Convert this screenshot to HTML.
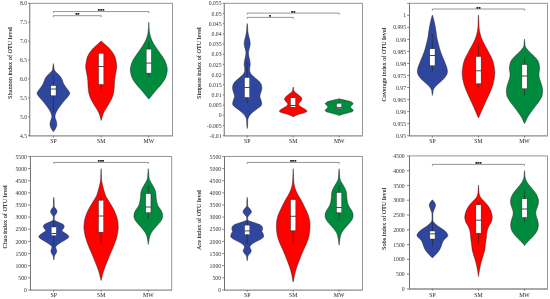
<!DOCTYPE html>
<html><head><meta charset="utf-8"><title>Alpha diversity violin plots</title>
<style>html,body{margin:0;padding:0;background:#fff}svg{display:block}text{font-family:"Liberation Serif", "DejaVu Serif", serif}</style></head><body>
<svg width="550" height="299" viewBox="0 0 550 299">
<rect width="550" height="299" fill="#fff"/>
<path d="M29.75 3.30 H172.50 V135.70" fill="none" stroke="#7a7a7a" stroke-width="0.8"/><path d="M29.75 3.30 V136.20" fill="none" stroke="#565656" stroke-width="0.85"/><path d="M29.30 135.80 H172.90" fill="none" stroke="#8c8c8c" stroke-width="1.3"/>
<line x1="28.05" y1="135.70" x2="29.75" y2="135.70" stroke="#565656" stroke-width="0.7"/><text transform="translate(27.15 137.80) scale(0.89 1)" font-size="6.5" text-anchor="end" fill="#333">4.5</text>
<line x1="28.05" y1="116.79" x2="29.75" y2="116.79" stroke="#565656" stroke-width="0.7"/><text transform="translate(27.15 118.89) scale(0.89 1)" font-size="6.5" text-anchor="end" fill="#333">5.0</text>
<line x1="28.05" y1="97.87" x2="29.75" y2="97.87" stroke="#565656" stroke-width="0.7"/><text transform="translate(27.15 99.97) scale(0.89 1)" font-size="6.5" text-anchor="end" fill="#333">5.5</text>
<line x1="28.05" y1="78.96" x2="29.75" y2="78.96" stroke="#565656" stroke-width="0.7"/><text transform="translate(27.15 81.06) scale(0.89 1)" font-size="6.5" text-anchor="end" fill="#333">6.0</text>
<line x1="28.05" y1="60.04" x2="29.75" y2="60.04" stroke="#565656" stroke-width="0.7"/><text transform="translate(27.15 62.14) scale(0.89 1)" font-size="6.5" text-anchor="end" fill="#333">6.5</text>
<line x1="28.05" y1="41.13" x2="29.75" y2="41.13" stroke="#565656" stroke-width="0.7"/><text transform="translate(27.15 43.23) scale(0.89 1)" font-size="6.5" text-anchor="end" fill="#333">7.0</text>
<line x1="28.05" y1="22.21" x2="29.75" y2="22.21" stroke="#565656" stroke-width="0.7"/><text transform="translate(27.15 24.31) scale(0.89 1)" font-size="6.5" text-anchor="end" fill="#333">7.5</text>
<line x1="28.05" y1="3.30" x2="29.75" y2="3.30" stroke="#565656" stroke-width="0.7"/><text transform="translate(27.15 5.40) scale(0.89 1)" font-size="6.5" text-anchor="end" fill="#333">8.0</text>
<line x1="53.40" y1="135.70" x2="53.40" y2="137.50" stroke="#565656" stroke-width="0.7"/><text transform="translate(53.40 143.30) scale(0.93 1)" font-size="6.2" text-anchor="middle" fill="#222">SP</text>
<line x1="101.20" y1="135.70" x2="101.20" y2="137.50" stroke="#565656" stroke-width="0.7"/><text transform="translate(101.20 143.30) scale(0.93 1)" font-size="6.2" text-anchor="middle" fill="#222">SM</text>
<line x1="148.80" y1="135.70" x2="148.80" y2="137.50" stroke="#565656" stroke-width="0.7"/><text transform="translate(148.80 143.30) scale(0.93 1)" font-size="6.2" text-anchor="middle" fill="#222">MW</text>
<text transform="translate(11.60 63.00) rotate(-90) scale(0.945 1)" font-size="6.6" text-anchor="middle" fill="#111" stroke="#111" stroke-width="0.06">Shannon index of OTU level</text>
<path d="M53.40 63.50 C53.48 64.08 53.75 65.92 53.90 67.00 C54.05 68.08 53.98 69.17 54.30 70.00 C54.62 70.83 55.18 71.33 55.80 72.00 C56.42 72.67 57.19 73.17 58.00 74.00 C58.81 74.83 59.94 76.00 60.65 77.00 C61.36 78.00 61.88 79.17 62.25 80.00 C62.62 80.83 62.54 81.17 62.90 82.00 C63.26 82.83 63.82 84.00 64.40 85.00 C64.98 86.00 65.68 87.00 66.40 88.00 C67.12 89.00 68.15 90.17 68.70 91.00 C69.25 91.83 69.63 92.33 69.70 93.00 C69.77 93.67 69.60 94.17 69.10 95.00 C68.60 95.83 67.47 97.08 66.70 98.00 C65.93 98.92 65.22 99.67 64.50 100.50 C63.78 101.33 63.07 102.17 62.40 103.00 C61.73 103.83 61.12 104.67 60.50 105.50 C59.88 106.33 59.27 107.17 58.70 108.00 C58.13 108.83 57.58 109.67 57.10 110.50 C56.62 111.33 56.15 112.08 55.80 113.00 C55.45 113.92 55.11 115.17 55.00 116.00 C54.89 116.83 54.94 117.17 55.15 118.00 C55.36 118.83 55.98 120.00 56.25 121.00 C56.52 122.00 56.75 123.17 56.80 124.00 C56.85 124.83 56.80 125.17 56.55 126.00 C56.30 126.83 55.82 128.03 55.30 129.00 C54.77 129.97 53.72 131.33 53.40 131.80 L53.40 131.80 C53.08 131.33 52.02 129.97 51.50 129.00 C50.98 128.03 50.50 126.83 50.25 126.00 C50.00 125.17 49.95 124.83 50.00 124.00 C50.05 123.17 50.27 122.00 50.55 121.00 C50.82 120.00 51.44 118.83 51.65 118.00 C51.86 117.17 51.91 116.83 51.80 116.00 C51.69 115.17 51.35 113.92 51.00 113.00 C50.65 112.08 50.18 111.33 49.70 110.50 C49.22 109.67 48.67 108.83 48.10 108.00 C47.53 107.17 46.92 106.33 46.30 105.50 C45.68 104.67 45.07 103.83 44.40 103.00 C43.73 102.17 43.02 101.33 42.30 100.50 C41.58 99.67 40.87 98.92 40.10 98.00 C39.33 97.08 38.20 95.83 37.70 95.00 C37.20 94.17 37.03 93.67 37.10 93.00 C37.17 92.33 37.55 91.83 38.10 91.00 C38.65 90.17 39.68 89.00 40.40 88.00 C41.12 87.00 41.82 86.00 42.40 85.00 C42.98 84.00 43.54 82.83 43.90 82.00 C44.26 81.17 44.17 80.83 44.55 80.00 C44.92 79.17 45.44 78.00 46.15 77.00 C46.86 76.00 47.99 74.83 48.80 74.00 C49.61 73.17 50.38 72.67 51.00 72.00 C51.62 71.33 52.18 70.83 52.50 70.00 C52.82 69.17 52.75 68.08 52.90 67.00 C53.05 65.92 53.32 64.08 53.40 63.50 Z" fill="#2F469E" stroke="#1c1c1c" stroke-width="0.45" stroke-linejoin="round"/>
<path d="M101.20 41.00 C101.58 41.33 102.62 42.25 103.45 43.00 C104.28 43.75 105.28 44.67 106.20 45.50 C107.12 46.33 108.13 47.17 108.95 48.00 C109.77 48.83 110.43 49.67 111.10 50.50 C111.77 51.33 112.42 52.17 112.95 53.00 C113.48 53.83 113.90 54.67 114.30 55.50 C114.70 56.33 115.01 56.75 115.35 58.00 C115.69 59.25 116.13 61.67 116.35 63.00 C116.58 64.33 116.65 65.17 116.70 66.00 C116.75 66.83 116.73 67.17 116.65 68.00 C116.57 68.83 116.44 69.67 116.20 71.00 C115.96 72.33 115.48 74.33 115.20 76.00 C114.92 77.67 114.69 79.33 114.55 81.00 C114.41 82.67 114.47 84.33 114.35 86.00 C114.23 87.67 114.03 89.67 113.85 91.00 C113.68 92.33 113.55 93.00 113.30 94.00 C113.05 95.00 112.68 96.08 112.35 97.00 C112.02 97.92 111.70 98.67 111.30 99.50 C110.90 100.33 110.42 101.17 109.95 102.00 C109.48 102.83 109.00 103.67 108.50 104.50 C108.00 105.33 107.47 106.17 106.95 107.00 C106.43 107.83 105.90 108.67 105.40 109.50 C104.90 110.33 104.36 111.17 103.95 112.00 C103.54 112.83 103.25 113.67 102.95 114.50 C102.65 115.33 102.44 116.00 102.15 117.00 C101.86 118.00 101.36 119.92 101.20 120.50 L101.20 120.50 C101.04 119.92 100.54 118.00 100.25 117.00 C99.96 116.00 99.75 115.33 99.45 114.50 C99.15 113.67 98.86 112.83 98.45 112.00 C98.04 111.17 97.50 110.33 97.00 109.50 C96.50 108.67 95.97 107.83 95.45 107.00 C94.93 106.17 94.40 105.33 93.90 104.50 C93.40 103.67 92.92 102.83 92.45 102.00 C91.98 101.17 91.50 100.33 91.10 99.50 C90.70 98.67 90.38 97.92 90.05 97.00 C89.72 96.08 89.35 95.00 89.10 94.00 C88.85 93.00 88.72 92.33 88.55 91.00 C88.38 89.67 88.17 87.67 88.05 86.00 C87.93 84.33 87.99 82.67 87.85 81.00 C87.71 79.33 87.48 77.67 87.20 76.00 C86.92 74.33 86.44 72.33 86.20 71.00 C85.96 69.67 85.83 68.83 85.75 68.00 C85.67 67.17 85.65 66.83 85.70 66.00 C85.75 65.17 85.83 64.33 86.05 63.00 C86.27 61.67 86.71 59.25 87.05 58.00 C87.39 56.75 87.70 56.33 88.10 55.50 C88.50 54.67 88.92 53.83 89.45 53.00 C89.98 52.17 90.63 51.33 91.30 50.50 C91.97 49.67 92.63 48.83 93.45 48.00 C94.27 47.17 95.28 46.33 96.20 45.50 C97.12 44.67 98.12 43.75 98.95 43.00 C99.78 42.25 100.83 41.33 101.20 41.00 Z" fill="#FE0200" stroke="#1c1c1c" stroke-width="0.45" stroke-linejoin="round"/>
<path d="M148.80 22.20 C148.85 23.17 148.97 26.20 149.10 28.00 C149.23 29.80 149.35 31.50 149.60 33.00 C149.85 34.50 150.15 35.62 150.60 37.00 C151.05 38.38 151.57 39.80 152.30 41.30 C153.03 42.80 154.03 44.48 155.00 46.00 C155.97 47.52 157.05 48.90 158.10 50.40 C159.15 51.90 160.27 53.48 161.30 55.00 C162.33 56.52 163.48 58.00 164.30 59.50 C165.12 61.00 165.70 62.40 166.20 64.00 C166.70 65.60 167.22 67.43 167.30 69.10 C167.38 70.77 167.03 72.48 166.70 74.00 C166.37 75.52 166.03 76.70 165.30 78.20 C164.57 79.70 163.38 81.48 162.30 83.00 C161.22 84.52 160.08 85.80 158.80 87.30 C157.52 88.80 155.88 90.48 154.60 92.00 C153.32 93.52 152.07 95.22 151.10 96.40 C150.13 97.58 149.18 98.65 148.80 99.10 L148.80 99.10 C148.42 98.65 147.47 97.58 146.50 96.40 C145.53 95.22 144.28 93.52 143.00 92.00 C141.72 90.48 140.08 88.80 138.80 87.30 C137.52 85.80 136.38 84.52 135.30 83.00 C134.22 81.48 133.03 79.70 132.30 78.20 C131.57 76.70 131.23 75.52 130.90 74.00 C130.57 72.48 130.22 70.77 130.30 69.10 C130.38 67.43 130.90 65.60 131.40 64.00 C131.90 62.40 132.48 61.00 133.30 59.50 C134.12 58.00 135.27 56.52 136.30 55.00 C137.33 53.48 138.45 51.90 139.50 50.40 C140.55 48.90 141.63 47.52 142.60 46.00 C143.57 44.48 144.57 42.80 145.30 41.30 C146.03 39.80 146.55 38.38 147.00 37.00 C147.45 35.62 147.75 34.50 148.00 33.00 C148.25 31.50 148.37 29.80 148.50 28.00 C148.63 26.20 148.75 23.17 148.80 22.20 Z" fill="#008A3E" stroke="#1c1c1c" stroke-width="0.45" stroke-linejoin="round"/>
<line x1="53.40" y1="75.50" x2="53.40" y2="112.00" stroke="#1c1c1c" stroke-width="0.5"/><rect x="50.75" y="85.50" width="5.30" height="10.30" fill="#fff" stroke="#222" stroke-width="0.45"/><line x1="50.75" y1="89.00" x2="56.05" y2="89.00" stroke="#1a1a1a" stroke-width="0.8"/>
<line x1="101.20" y1="53.20" x2="101.20" y2="90.50" stroke="#1c1c1c" stroke-width="0.5"/><rect x="98.55" y="53.20" width="5.30" height="31.30" fill="#fff" stroke="#222" stroke-width="0.45"/><line x1="98.55" y1="66.50" x2="103.85" y2="66.50" stroke="#1a1a1a" stroke-width="0.8"/>
<line x1="148.80" y1="42.20" x2="148.80" y2="76.40" stroke="#1c1c1c" stroke-width="0.5"/><rect x="146.15" y="49.10" width="5.30" height="24.00" fill="#fff" stroke="#222" stroke-width="0.45"/><line x1="146.15" y1="63.10" x2="151.45" y2="63.10" stroke="#1a1a1a" stroke-width="0.8"/>
<path d="M53.40 13.05 V11.55 H148.80 V13.05" fill="none" stroke="#5c5c5c" stroke-width="0.65"/><text x="101.10" y="12.30" font-size="4.3" font-weight="bold" text-anchor="middle" fill="#111" stroke="#111" stroke-width="0.25">***</text>
<path d="M53.40 17.20 V15.70 H101.20 V17.20" fill="none" stroke="#5c5c5c" stroke-width="0.65"/><text x="77.30" y="16.45" font-size="4.3" font-weight="bold" text-anchor="middle" fill="#111" stroke="#111" stroke-width="0.25">**</text>
<path d="M224.25 3.30 H362.50 V135.70" fill="none" stroke="#7a7a7a" stroke-width="0.8"/><path d="M224.25 3.30 V136.20" fill="none" stroke="#565656" stroke-width="0.85"/><path d="M223.80 135.80 H362.90" fill="none" stroke="#8c8c8c" stroke-width="1.3"/>
<line x1="222.75" y1="135.70" x2="224.25" y2="135.70" stroke="#565656" stroke-width="0.7"/><text transform="translate(221.65 137.80) scale(0.89 1)" font-size="6.5" text-anchor="end" fill="#333">-0.01</text>
<line x1="222.75" y1="125.52" x2="224.25" y2="125.52" stroke="#565656" stroke-width="0.7"/><text transform="translate(221.65 127.62) scale(0.89 1)" font-size="6.5" text-anchor="end" fill="#333">-0.005</text>
<line x1="222.75" y1="115.33" x2="224.25" y2="115.33" stroke="#565656" stroke-width="0.7"/><text transform="translate(221.65 117.43) scale(0.89 1)" font-size="6.5" text-anchor="end" fill="#333">0</text>
<line x1="222.75" y1="105.15" x2="224.25" y2="105.15" stroke="#565656" stroke-width="0.7"/><text transform="translate(221.65 107.25) scale(0.89 1)" font-size="6.5" text-anchor="end" fill="#333">0.005</text>
<line x1="222.75" y1="94.96" x2="224.25" y2="94.96" stroke="#565656" stroke-width="0.7"/><text transform="translate(221.65 97.06) scale(0.89 1)" font-size="6.5" text-anchor="end" fill="#333">0.01</text>
<line x1="222.75" y1="84.78" x2="224.25" y2="84.78" stroke="#565656" stroke-width="0.7"/><text transform="translate(221.65 86.88) scale(0.89 1)" font-size="6.5" text-anchor="end" fill="#333">0.015</text>
<line x1="222.75" y1="74.59" x2="224.25" y2="74.59" stroke="#565656" stroke-width="0.7"/><text transform="translate(221.65 76.69) scale(0.89 1)" font-size="6.5" text-anchor="end" fill="#333">0.02</text>
<line x1="222.75" y1="64.41" x2="224.25" y2="64.41" stroke="#565656" stroke-width="0.7"/><text transform="translate(221.65 66.51) scale(0.89 1)" font-size="6.5" text-anchor="end" fill="#333">0.025</text>
<line x1="222.75" y1="54.22" x2="224.25" y2="54.22" stroke="#565656" stroke-width="0.7"/><text transform="translate(221.65 56.32) scale(0.89 1)" font-size="6.5" text-anchor="end" fill="#333">0.03</text>
<line x1="222.75" y1="44.04" x2="224.25" y2="44.04" stroke="#565656" stroke-width="0.7"/><text transform="translate(221.65 46.14) scale(0.89 1)" font-size="6.5" text-anchor="end" fill="#333">0.035</text>
<line x1="222.75" y1="33.85" x2="224.25" y2="33.85" stroke="#565656" stroke-width="0.7"/><text transform="translate(221.65 35.95) scale(0.89 1)" font-size="6.5" text-anchor="end" fill="#333">0.04</text>
<line x1="222.75" y1="23.67" x2="224.25" y2="23.67" stroke="#565656" stroke-width="0.7"/><text transform="translate(221.65 25.77) scale(0.89 1)" font-size="6.5" text-anchor="end" fill="#333">0.045</text>
<line x1="222.75" y1="13.48" x2="224.25" y2="13.48" stroke="#565656" stroke-width="0.7"/><text transform="translate(221.65 15.58) scale(0.89 1)" font-size="6.5" text-anchor="end" fill="#333">0.05</text>
<line x1="222.75" y1="3.30" x2="224.25" y2="3.30" stroke="#565656" stroke-width="0.7"/><text transform="translate(221.65 5.40) scale(0.89 1)" font-size="6.5" text-anchor="end" fill="#333">0.055</text>
<line x1="247.20" y1="135.70" x2="247.20" y2="137.50" stroke="#565656" stroke-width="0.7"/><text transform="translate(247.20 143.30) scale(0.93 1)" font-size="6.2" text-anchor="middle" fill="#222">SP</text>
<line x1="293.20" y1="135.70" x2="293.20" y2="137.50" stroke="#565656" stroke-width="0.7"/><text transform="translate(293.20 143.30) scale(0.93 1)" font-size="6.2" text-anchor="middle" fill="#222">SM</text>
<line x1="339.20" y1="135.70" x2="339.20" y2="137.50" stroke="#565656" stroke-width="0.7"/><text transform="translate(339.20 143.30) scale(0.93 1)" font-size="6.2" text-anchor="middle" fill="#222">MW</text>
<text transform="translate(200.70 63.10) rotate(-90) scale(0.945 1)" font-size="6.6" text-anchor="middle" fill="#111" stroke="#111" stroke-width="0.06">Simpson index of OTU level</text>
<path d="M247.20 23.50 C247.27 24.08 247.52 25.92 247.60 27.00 C247.68 28.08 247.62 29.00 247.70 30.00 C247.78 31.00 247.97 32.17 248.10 33.00 C248.22 33.83 248.27 34.17 248.45 35.00 C248.63 35.83 248.99 37.17 249.20 38.00 C249.41 38.83 249.53 39.17 249.70 40.00 C249.87 40.83 250.13 42.17 250.20 43.00 C250.27 43.83 250.18 44.33 250.10 45.00 C250.02 45.67 249.83 46.42 249.70 47.00 C249.57 47.58 249.43 48.00 249.30 48.50 C249.17 49.00 249.04 49.42 248.90 50.00 C248.76 50.58 248.51 51.33 248.45 52.00 C248.39 52.67 248.49 53.33 248.55 54.00 C248.61 54.67 248.69 55.33 248.80 56.00 C248.91 56.67 249.05 57.33 249.20 58.00 C249.35 58.67 249.56 59.33 249.70 60.00 C249.84 60.67 249.97 61.33 250.05 62.00 C250.13 62.67 250.20 63.33 250.20 64.00 C250.20 64.67 250.13 65.33 250.05 66.00 C249.97 66.67 249.77 67.33 249.70 68.00 C249.62 68.67 249.58 69.42 249.60 70.00 C249.62 70.58 249.67 71.00 249.80 71.50 C249.93 72.00 250.13 72.50 250.40 73.00 C250.67 73.50 250.97 74.00 251.40 74.50 C251.82 75.00 252.40 75.50 252.95 76.00 C253.50 76.50 254.12 77.00 254.70 77.50 C255.28 78.00 255.87 78.50 256.45 79.00 C257.03 79.50 257.66 80.00 258.20 80.50 C258.74 81.00 259.28 81.50 259.70 82.00 C260.12 82.50 260.42 83.00 260.70 83.50 C260.98 84.00 261.21 84.25 261.40 85.00 C261.59 85.75 261.87 87.00 261.85 88.00 C261.83 89.00 261.56 90.00 261.30 91.00 C261.04 92.00 260.54 93.08 260.30 94.00 C260.06 94.92 259.81 95.67 259.85 96.50 C259.89 97.33 260.27 98.08 260.55 99.00 C260.83 99.92 261.37 101.08 261.55 102.00 C261.73 102.92 261.77 103.83 261.65 104.50 C261.52 105.17 261.14 105.58 260.80 106.00 C260.46 106.42 260.13 106.58 259.60 107.00 C259.07 107.42 258.27 108.00 257.60 108.50 C256.92 109.00 256.22 109.50 255.55 110.00 C254.88 110.50 254.22 111.00 253.60 111.50 C252.98 112.00 252.38 112.50 251.85 113.00 C251.32 113.50 250.82 114.00 250.40 114.50 C249.97 115.00 249.69 115.33 249.30 116.00 C248.91 116.67 248.32 117.67 248.05 118.50 C247.78 119.33 247.77 119.92 247.70 121.00 C247.62 122.08 247.68 123.75 247.60 125.00 C247.52 126.25 247.27 127.92 247.20 128.50 L247.20 128.50 C247.13 127.92 246.88 126.25 246.80 125.00 C246.72 123.75 246.77 122.08 246.70 121.00 C246.62 119.92 246.62 119.33 246.35 118.50 C246.08 117.67 245.49 116.67 245.10 116.00 C244.71 115.33 244.43 115.00 244.00 114.50 C243.57 114.00 243.08 113.50 242.55 113.00 C242.02 112.50 241.42 112.00 240.80 111.50 C240.18 111.00 239.52 110.50 238.85 110.00 C238.18 109.50 237.47 109.00 236.80 108.50 C236.12 108.00 235.33 107.42 234.80 107.00 C234.27 106.58 233.94 106.42 233.60 106.00 C233.26 105.58 232.88 105.17 232.75 104.50 C232.62 103.83 232.67 102.92 232.85 102.00 C233.03 101.08 233.57 99.92 233.85 99.00 C234.13 98.08 234.51 97.33 234.55 96.50 C234.59 95.67 234.34 94.92 234.10 94.00 C233.86 93.08 233.36 92.00 233.10 91.00 C232.84 90.00 232.57 89.00 232.55 88.00 C232.53 87.00 232.81 85.75 233.00 85.00 C233.19 84.25 233.42 84.00 233.70 83.50 C233.98 83.00 234.28 82.50 234.70 82.00 C235.12 81.50 235.66 81.00 236.20 80.50 C236.74 80.00 237.37 79.50 237.95 79.00 C238.53 78.50 239.12 78.00 239.70 77.50 C240.28 77.00 240.90 76.50 241.45 76.00 C242.00 75.50 242.57 75.00 243.00 74.50 C243.43 74.00 243.73 73.50 244.00 73.00 C244.27 72.50 244.47 72.00 244.60 71.50 C244.73 71.00 244.78 70.58 244.80 70.00 C244.82 69.42 244.77 68.67 244.70 68.00 C244.62 67.33 244.43 66.67 244.35 66.00 C244.27 65.33 244.20 64.67 244.20 64.00 C244.20 63.33 244.27 62.67 244.35 62.00 C244.43 61.33 244.56 60.67 244.70 60.00 C244.84 59.33 245.05 58.67 245.20 58.00 C245.35 57.33 245.49 56.67 245.60 56.00 C245.71 55.33 245.79 54.67 245.85 54.00 C245.91 53.33 246.01 52.67 245.95 52.00 C245.89 51.33 245.64 50.58 245.50 50.00 C245.36 49.42 245.23 49.00 245.10 48.50 C244.97 48.00 244.83 47.58 244.70 47.00 C244.57 46.42 244.38 45.67 244.30 45.00 C244.22 44.33 244.13 43.83 244.20 43.00 C244.27 42.17 244.53 40.83 244.70 40.00 C244.87 39.17 244.99 38.83 245.20 38.00 C245.41 37.17 245.77 35.83 245.95 35.00 C246.13 34.17 246.17 33.83 246.30 33.00 C246.42 32.17 246.62 31.00 246.70 30.00 C246.78 29.00 246.72 28.08 246.80 27.00 C246.88 25.92 247.13 24.08 247.20 23.50 Z" fill="#2F469E" stroke="#1c1c1c" stroke-width="0.45" stroke-linejoin="round"/>
<path d="M293.20 87.00 C293.27 87.33 293.50 88.42 293.60 89.00 C293.70 89.58 293.60 90.00 293.80 90.50 C294.00 91.00 294.22 91.42 294.80 92.00 C295.38 92.58 296.46 93.33 297.30 94.00 C298.14 94.67 299.14 95.33 299.85 96.00 C300.56 96.67 301.22 97.42 301.55 98.00 C301.88 98.58 301.95 99.00 301.85 99.50 C301.75 100.00 301.41 100.42 300.95 101.00 C300.49 101.58 299.47 102.42 299.10 103.00 C298.72 103.58 298.60 104.00 298.70 104.50 C298.80 105.00 299.12 105.50 299.70 106.00 C300.28 106.50 301.37 107.00 302.20 107.50 C303.03 108.00 303.95 108.50 304.70 109.00 C305.45 109.50 306.34 110.08 306.70 110.50 C307.06 110.92 307.03 111.20 306.85 111.50 C306.67 111.80 306.12 112.05 305.60 112.30 C305.07 112.55 304.92 112.63 303.70 113.00 C302.48 113.37 299.80 114.00 298.30 114.50 C296.80 115.00 295.55 115.58 294.70 116.00 C293.85 116.42 293.45 116.83 293.20 117.00 L293.20 117.00 C292.95 116.83 292.55 116.42 291.70 116.00 C290.85 115.58 289.60 115.00 288.10 114.50 C286.60 114.00 283.92 113.37 282.70 113.00 C281.48 112.63 281.32 112.55 280.80 112.30 C280.28 112.05 279.73 111.80 279.55 111.50 C279.37 111.20 279.34 110.92 279.70 110.50 C280.06 110.08 280.95 109.50 281.70 109.00 C282.45 108.50 283.37 108.00 284.20 107.50 C285.03 107.00 286.12 106.50 286.70 106.00 C287.28 105.50 287.60 105.00 287.70 104.50 C287.80 104.00 287.68 103.58 287.30 103.00 C286.93 102.42 285.91 101.58 285.45 101.00 C284.99 100.42 284.65 100.00 284.55 99.50 C284.45 99.00 284.52 98.58 284.85 98.00 C285.18 97.42 285.84 96.67 286.55 96.00 C287.26 95.33 288.26 94.67 289.10 94.00 C289.94 93.33 291.02 92.58 291.60 92.00 C292.18 91.42 292.40 91.00 292.60 90.50 C292.80 90.00 292.70 89.58 292.80 89.00 C292.90 88.42 293.13 87.33 293.20 87.00 Z" fill="#FE0200" stroke="#1c1c1c" stroke-width="0.45" stroke-linejoin="round"/>
<path d="M339.20 98.80 C339.62 98.90 340.78 99.20 341.70 99.40 C342.62 99.60 343.70 99.77 344.70 100.00 C345.70 100.23 346.77 100.55 347.70 100.80 C348.63 101.05 349.62 101.27 350.30 101.50 C350.98 101.73 351.38 101.95 351.80 102.20 C352.23 102.45 352.64 102.70 352.85 103.00 C353.06 103.30 353.27 103.58 353.05 104.00 C352.83 104.42 351.97 105.00 351.55 105.50 C351.13 106.00 350.55 106.50 350.55 107.00 C350.55 107.50 351.11 108.00 351.55 108.50 C351.99 109.00 353.05 109.50 353.20 110.00 C353.35 110.50 352.95 111.12 352.45 111.50 C351.95 111.88 351.03 112.05 350.20 112.30 C349.37 112.55 348.40 112.75 347.45 113.00 C346.50 113.25 345.42 113.55 344.50 113.80 C343.58 114.05 342.83 114.22 341.95 114.50 C341.07 114.78 339.66 115.33 339.20 115.50 L339.20 115.50 C338.74 115.33 337.33 114.78 336.45 114.50 C335.57 114.22 334.82 114.05 333.90 113.80 C332.98 113.55 331.90 113.25 330.95 113.00 C330.00 112.75 329.03 112.55 328.20 112.30 C327.37 112.05 326.45 111.88 325.95 111.50 C325.45 111.12 325.05 110.50 325.20 110.00 C325.35 109.50 326.41 109.00 326.85 108.50 C327.29 108.00 327.85 107.50 327.85 107.00 C327.85 106.50 327.27 106.00 326.85 105.50 C326.43 105.00 325.57 104.42 325.35 104.00 C325.13 103.58 325.34 103.30 325.55 103.00 C325.76 102.70 326.17 102.45 326.60 102.20 C327.02 101.95 327.42 101.73 328.10 101.50 C328.78 101.27 329.77 101.05 330.70 100.80 C331.63 100.55 332.70 100.23 333.70 100.00 C334.70 99.77 335.78 99.60 336.70 99.40 C337.62 99.20 338.78 98.90 339.20 98.80 Z" fill="#008A3E" stroke="#1c1c1c" stroke-width="0.45" stroke-linejoin="round"/>
<line x1="247.10" y1="62.00" x2="247.10" y2="103.00" stroke="#1c1c1c" stroke-width="0.5"/><rect x="244.45" y="77.50" width="5.30" height="20.00" fill="#fff" stroke="#222" stroke-width="0.45"/><line x1="244.45" y1="87.50" x2="249.75" y2="87.50" stroke="#1a1a1a" stroke-width="0.8"/>
<line x1="293.10" y1="96.00" x2="293.10" y2="107.20" stroke="#1c1c1c" stroke-width="0.5"/><rect x="290.45" y="97.80" width="5.30" height="9.40" fill="#fff" stroke="#222" stroke-width="0.45"/><line x1="290.45" y1="105.50" x2="295.75" y2="105.50" stroke="#1a1a1a" stroke-width="0.8"/>
<line x1="339.10" y1="101.80" x2="339.10" y2="108.50" stroke="#1c1c1c" stroke-width="0.5"/><rect x="336.45" y="103.20" width="5.30" height="5.30" fill="#fff" stroke="#222" stroke-width="0.45"/><line x1="336.45" y1="107.40" x2="341.75" y2="107.40" stroke="#1a1a1a" stroke-width="0.8"/>
<path d="M247.20 14.60 V13.10 H339.20 V14.60" fill="none" stroke="#5c5c5c" stroke-width="0.65"/><text x="293.20" y="13.85" font-size="4.3" font-weight="bold" text-anchor="middle" fill="#111" stroke="#111" stroke-width="0.25">**</text>
<path d="M247.20 18.90 V17.40 H293.20 V18.90" fill="none" stroke="#5c5c5c" stroke-width="0.65"/><text x="270.20" y="18.15" font-size="4.3" font-weight="bold" text-anchor="middle" fill="#111" stroke="#111" stroke-width="0.25">*</text>
<path d="M409.50 3.30 H547.50 V135.70" fill="none" stroke="#7a7a7a" stroke-width="0.8"/><path d="M409.50 3.30 V136.20" fill="none" stroke="#565656" stroke-width="0.85"/><path d="M409.05 135.80 H547.90" fill="none" stroke="#8c8c8c" stroke-width="1.3"/>
<line x1="407.10" y1="135.70" x2="409.50" y2="135.70" stroke="#565656" stroke-width="0.7"/><text transform="translate(406.15 137.80) scale(0.89 1)" font-size="6.5" text-anchor="end" fill="#333">0.95</text>
<line x1="407.10" y1="123.66" x2="409.50" y2="123.66" stroke="#565656" stroke-width="0.7"/><text transform="translate(406.15 125.76) scale(0.89 1)" font-size="6.5" text-anchor="end" fill="#333">0.955</text>
<line x1="407.10" y1="111.63" x2="409.50" y2="111.63" stroke="#565656" stroke-width="0.7"/><text transform="translate(406.15 113.73) scale(0.89 1)" font-size="6.5" text-anchor="end" fill="#333">0.96</text>
<line x1="407.10" y1="99.59" x2="409.50" y2="99.59" stroke="#565656" stroke-width="0.7"/><text transform="translate(406.15 101.69) scale(0.89 1)" font-size="6.5" text-anchor="end" fill="#333">0.965</text>
<line x1="407.10" y1="87.55" x2="409.50" y2="87.55" stroke="#565656" stroke-width="0.7"/><text transform="translate(406.15 89.65) scale(0.89 1)" font-size="6.5" text-anchor="end" fill="#333">0.97</text>
<line x1="407.10" y1="75.52" x2="409.50" y2="75.52" stroke="#565656" stroke-width="0.7"/><text transform="translate(406.15 77.62) scale(0.89 1)" font-size="6.5" text-anchor="end" fill="#333">0.975</text>
<line x1="407.10" y1="63.48" x2="409.50" y2="63.48" stroke="#565656" stroke-width="0.7"/><text transform="translate(406.15 65.58) scale(0.89 1)" font-size="6.5" text-anchor="end" fill="#333">0.98</text>
<line x1="407.10" y1="51.45" x2="409.50" y2="51.45" stroke="#565656" stroke-width="0.7"/><text transform="translate(406.15 53.55) scale(0.89 1)" font-size="6.5" text-anchor="end" fill="#333">0.985</text>
<line x1="407.10" y1="39.41" x2="409.50" y2="39.41" stroke="#565656" stroke-width="0.7"/><text transform="translate(406.15 41.51) scale(0.89 1)" font-size="6.5" text-anchor="end" fill="#333">0.99</text>
<line x1="407.10" y1="27.37" x2="409.50" y2="27.37" stroke="#565656" stroke-width="0.7"/><text transform="translate(406.15 29.47) scale(0.89 1)" font-size="6.5" text-anchor="end" fill="#333">0.995</text>
<line x1="407.10" y1="15.34" x2="409.50" y2="15.34" stroke="#565656" stroke-width="0.7"/><text transform="translate(406.15 17.44) scale(0.89 1)" font-size="6.5" text-anchor="end" fill="#333">1</text>
<line x1="407.10" y1="3.30" x2="409.50" y2="3.30" stroke="#565656" stroke-width="0.7"/><line x1="432.40" y1="135.70" x2="432.40" y2="137.50" stroke="#565656" stroke-width="0.7"/><text transform="translate(432.40 143.30) scale(0.93 1)" font-size="6.2" text-anchor="middle" fill="#222">SP</text>
<line x1="478.50" y1="135.70" x2="478.50" y2="137.50" stroke="#565656" stroke-width="0.7"/><text transform="translate(478.50 143.30) scale(0.93 1)" font-size="6.2" text-anchor="middle" fill="#222">SM</text>
<line x1="524.50" y1="135.70" x2="524.50" y2="137.50" stroke="#565656" stroke-width="0.7"/><text transform="translate(524.50 143.30) scale(0.93 1)" font-size="6.2" text-anchor="middle" fill="#222">MW</text>
<text transform="translate(386.10 64.60) rotate(-90) scale(0.945 1)" font-size="6.6" text-anchor="middle" fill="#111" stroke="#111" stroke-width="0.06">Coverage index of OTU level</text>
<path d="M432.40 15.00 C432.55 15.50 432.98 16.83 433.30 18.00 C433.62 19.17 433.97 20.50 434.30 22.00 C434.63 23.50 435.00 25.33 435.30 27.00 C435.60 28.67 435.85 30.33 436.10 32.00 C436.35 33.67 436.58 35.67 436.80 37.00 C437.02 38.33 437.09 38.67 437.40 40.00 C437.71 41.33 438.22 43.33 438.65 45.00 C439.08 46.67 439.48 48.33 440.00 50.00 C440.52 51.67 441.15 53.33 441.80 55.00 C442.45 56.67 443.22 58.33 443.90 60.00 C444.58 61.67 445.40 63.67 445.90 65.00 C446.40 66.33 446.65 67.00 446.90 68.00 C447.15 69.00 447.38 70.00 447.40 71.00 C447.42 72.00 447.36 73.00 447.00 74.00 C446.64 75.00 445.99 76.00 445.25 77.00 C444.51 78.00 443.55 79.00 442.55 80.00 C441.55 81.00 440.34 82.00 439.25 83.00 C438.16 84.00 436.76 85.25 436.00 86.00 C435.24 86.75 435.09 87.00 434.70 87.50 C434.31 88.00 433.93 88.42 433.65 89.00 C433.37 89.58 433.14 90.33 433.00 91.00 C432.86 91.67 432.90 92.25 432.80 93.00 C432.70 93.75 432.47 95.08 432.40 95.50 L432.40 95.50 C432.33 95.08 432.10 93.75 432.00 93.00 C431.90 92.25 431.94 91.67 431.80 91.00 C431.66 90.33 431.43 89.58 431.15 89.00 C430.87 88.42 430.49 88.00 430.10 87.50 C429.71 87.00 429.56 86.75 428.80 86.00 C428.04 85.25 426.64 84.00 425.55 83.00 C424.46 82.00 423.25 81.00 422.25 80.00 C421.25 79.00 420.29 78.00 419.55 77.00 C418.81 76.00 418.16 75.00 417.80 74.00 C417.44 73.00 417.38 72.00 417.40 71.00 C417.42 70.00 417.65 69.00 417.90 68.00 C418.15 67.00 418.40 66.33 418.90 65.00 C419.40 63.67 420.22 61.67 420.90 60.00 C421.58 58.33 422.35 56.67 423.00 55.00 C423.65 53.33 424.27 51.67 424.80 50.00 C425.32 48.33 425.72 46.67 426.15 45.00 C426.58 43.33 427.09 41.33 427.40 40.00 C427.71 38.67 427.78 38.33 428.00 37.00 C428.22 35.67 428.45 33.67 428.70 32.00 C428.95 30.33 429.20 28.67 429.50 27.00 C429.80 25.33 430.17 23.50 430.50 22.00 C430.83 20.50 431.18 19.17 431.50 18.00 C431.82 16.83 432.25 15.50 432.40 15.00 Z" fill="#2F469E" stroke="#1c1c1c" stroke-width="0.45" stroke-linejoin="round"/>
<path d="M478.50 14.80 C478.55 15.67 478.73 18.47 478.80 20.00 C478.87 21.53 478.83 22.50 478.90 24.00 C478.97 25.50 478.98 27.33 479.20 29.00 C479.42 30.67 479.77 32.33 480.20 34.00 C480.63 35.67 481.13 37.33 481.80 39.00 C482.47 40.67 483.33 42.33 484.20 44.00 C485.07 45.67 486.28 47.67 487.00 49.00 C487.72 50.33 488.08 51.17 488.50 52.00 C488.92 52.83 489.05 53.17 489.50 54.00 C489.95 54.83 490.58 55.67 491.20 57.00 C491.82 58.33 492.70 60.33 493.20 62.00 C493.70 63.67 493.93 65.33 494.20 67.00 C494.47 68.67 494.75 70.33 494.80 72.00 C494.85 73.67 494.63 75.67 494.50 77.00 C494.37 78.33 494.28 78.67 494.00 80.00 C493.72 81.33 493.30 83.33 492.80 85.00 C492.30 86.67 491.67 88.33 491.00 90.00 C490.33 91.67 489.55 93.33 488.80 95.00 C488.05 96.67 487.27 98.33 486.50 100.00 C485.73 101.67 484.95 103.33 484.20 105.00 C483.45 106.67 482.58 108.67 482.00 110.00 C481.42 111.33 481.10 112.08 480.70 113.00 C480.30 113.92 479.97 114.67 479.60 115.50 C479.23 116.33 478.68 117.58 478.50 118.00 L478.50 118.00 C478.32 117.58 477.77 116.33 477.40 115.50 C477.03 114.67 476.70 113.92 476.30 113.00 C475.90 112.08 475.58 111.33 475.00 110.00 C474.42 108.67 473.55 106.67 472.80 105.00 C472.05 103.33 471.27 101.67 470.50 100.00 C469.73 98.33 468.95 96.67 468.20 95.00 C467.45 93.33 466.67 91.67 466.00 90.00 C465.33 88.33 464.70 86.67 464.20 85.00 C463.70 83.33 463.28 81.33 463.00 80.00 C462.72 78.67 462.63 78.33 462.50 77.00 C462.37 75.67 462.15 73.67 462.20 72.00 C462.25 70.33 462.53 68.67 462.80 67.00 C463.07 65.33 463.30 63.67 463.80 62.00 C464.30 60.33 465.18 58.33 465.80 57.00 C466.42 55.67 467.05 54.83 467.50 54.00 C467.95 53.17 468.08 52.83 468.50 52.00 C468.92 51.17 469.28 50.33 470.00 49.00 C470.72 47.67 471.93 45.67 472.80 44.00 C473.67 42.33 474.53 40.67 475.20 39.00 C475.87 37.33 476.37 35.67 476.80 34.00 C477.23 32.33 477.58 30.67 477.80 29.00 C478.02 27.33 478.03 25.50 478.10 24.00 C478.17 22.50 478.13 21.53 478.20 20.00 C478.27 18.47 478.45 15.67 478.50 14.80 Z" fill="#FE0200" stroke="#1c1c1c" stroke-width="0.45" stroke-linejoin="round"/>
<path d="M524.50 39.20 C524.57 39.83 524.82 42.03 524.90 43.00 C524.98 43.97 524.90 44.33 525.00 45.00 C525.10 45.67 525.17 46.33 525.50 47.00 C525.83 47.67 526.55 48.42 527.00 49.00 C527.45 49.58 527.76 50.00 528.20 50.50 C528.64 51.00 528.88 51.25 529.65 52.00 C530.42 52.75 531.77 54.00 532.80 55.00 C533.82 56.00 534.93 57.00 535.80 58.00 C536.67 59.00 537.47 60.00 538.00 61.00 C538.53 62.00 538.76 63.00 539.00 64.00 C539.24 65.00 539.37 66.00 539.45 67.00 C539.53 68.00 539.59 68.83 539.50 70.00 C539.41 71.17 538.92 72.67 538.90 74.00 C538.88 75.33 539.06 76.67 539.35 78.00 C539.64 79.33 540.23 80.67 540.65 82.00 C541.07 83.33 541.60 84.83 541.90 86.00 C542.20 87.17 542.33 88.17 542.45 89.00 C542.58 89.83 542.67 90.17 542.65 91.00 C542.63 91.83 542.46 93.17 542.35 94.00 C542.24 94.83 542.21 95.33 542.00 96.00 C541.79 96.67 541.66 97.00 541.10 98.00 C540.54 99.00 539.58 100.67 538.65 102.00 C537.72 103.33 536.52 104.67 535.50 106.00 C534.48 107.33 533.48 108.67 532.50 110.00 C531.52 111.33 530.55 112.67 529.65 114.00 C528.75 115.33 527.75 116.83 527.10 118.00 C526.45 119.17 526.18 120.08 525.75 121.00 C525.32 121.92 524.71 123.08 524.50 123.50 L524.50 123.50 C524.29 123.08 523.68 121.92 523.25 121.00 C522.82 120.08 522.55 119.17 521.90 118.00 C521.25 116.83 520.25 115.33 519.35 114.00 C518.45 112.67 517.48 111.33 516.50 110.00 C515.52 108.67 514.52 107.33 513.50 106.00 C512.48 104.67 511.28 103.33 510.35 102.00 C509.42 100.67 508.46 99.00 507.90 98.00 C507.34 97.00 507.21 96.67 507.00 96.00 C506.79 95.33 506.76 94.83 506.65 94.00 C506.54 93.17 506.37 91.83 506.35 91.00 C506.33 90.17 506.43 89.83 506.55 89.00 C506.68 88.17 506.80 87.17 507.10 86.00 C507.40 84.83 507.93 83.33 508.35 82.00 C508.78 80.67 509.36 79.33 509.65 78.00 C509.94 76.67 510.12 75.33 510.10 74.00 C510.08 72.67 509.59 71.17 509.50 70.00 C509.41 68.83 509.47 68.00 509.55 67.00 C509.63 66.00 509.76 65.00 510.00 64.00 C510.24 63.00 510.47 62.00 511.00 61.00 C511.53 60.00 512.33 59.00 513.20 58.00 C514.07 57.00 515.18 56.00 516.20 55.00 C517.23 54.00 518.58 52.75 519.35 52.00 C520.12 51.25 520.36 51.00 520.80 50.50 C521.24 50.00 521.55 49.58 522.00 49.00 C522.45 48.42 523.17 47.67 523.50 47.00 C523.83 46.33 523.90 45.67 524.00 45.00 C524.10 44.33 524.02 43.97 524.10 43.00 C524.18 42.03 524.43 39.83 524.50 39.20 Z" fill="#008A3E" stroke="#1c1c1c" stroke-width="0.45" stroke-linejoin="round"/>
<line x1="432.40" y1="33.90" x2="432.40" y2="71.50" stroke="#1c1c1c" stroke-width="0.5"/><rect x="429.75" y="48.80" width="5.30" height="17.00" fill="#fff" stroke="#222" stroke-width="0.45"/><line x1="429.75" y1="55.50" x2="435.05" y2="55.50" stroke="#1a1a1a" stroke-width="0.8"/>
<line x1="478.50" y1="42.50" x2="478.50" y2="87.50" stroke="#1c1c1c" stroke-width="0.5"/><rect x="475.85" y="56.50" width="5.30" height="27.30" fill="#fff" stroke="#222" stroke-width="0.45"/><line x1="475.85" y1="70.80" x2="481.15" y2="70.80" stroke="#1a1a1a" stroke-width="0.8"/>
<line x1="524.50" y1="57.00" x2="524.50" y2="95.80" stroke="#1c1c1c" stroke-width="0.5"/><rect x="521.85" y="64.50" width="5.30" height="24.30" fill="#fff" stroke="#222" stroke-width="0.45"/><line x1="521.85" y1="76.00" x2="527.15" y2="76.00" stroke="#1a1a1a" stroke-width="0.8"/>
<path d="M432.40 10.50 V9.00 H524.60 V10.50" fill="none" stroke="#5c5c5c" stroke-width="0.65"/><text x="478.50" y="9.75" font-size="4.3" font-weight="bold" text-anchor="middle" fill="#111" stroke="#111" stroke-width="0.25">**</text>
<path d="M30.45 156.45 H171.70 V289.95" fill="none" stroke="#7a7a7a" stroke-width="0.8"/><path d="M30.45 156.45 V290.45" fill="none" stroke="#565656" stroke-width="0.85"/><path d="M30.00 290.05 H172.10" fill="none" stroke="#8c8c8c" stroke-width="1.3"/>
<line x1="28.15" y1="289.95" x2="30.45" y2="289.95" stroke="#565656" stroke-width="0.7"/><text transform="translate(26.95 292.05) scale(0.89 1)" font-size="6.5" text-anchor="end" fill="#333">0</text>
<line x1="28.15" y1="277.81" x2="30.45" y2="277.81" stroke="#565656" stroke-width="0.7"/><text transform="translate(26.95 279.91) scale(0.89 1)" font-size="6.5" text-anchor="end" fill="#333">500</text>
<line x1="28.15" y1="265.68" x2="30.45" y2="265.68" stroke="#565656" stroke-width="0.7"/><text transform="translate(26.95 267.78) scale(0.89 1)" font-size="6.5" text-anchor="end" fill="#333">1000</text>
<line x1="28.15" y1="253.54" x2="30.45" y2="253.54" stroke="#565656" stroke-width="0.7"/><text transform="translate(26.95 255.64) scale(0.89 1)" font-size="6.5" text-anchor="end" fill="#333">1500</text>
<line x1="28.15" y1="241.41" x2="30.45" y2="241.41" stroke="#565656" stroke-width="0.7"/><text transform="translate(26.95 243.51) scale(0.89 1)" font-size="6.5" text-anchor="end" fill="#333">2000</text>
<line x1="28.15" y1="229.27" x2="30.45" y2="229.27" stroke="#565656" stroke-width="0.7"/><text transform="translate(26.95 231.37) scale(0.89 1)" font-size="6.5" text-anchor="end" fill="#333">2500</text>
<line x1="28.15" y1="217.13" x2="30.45" y2="217.13" stroke="#565656" stroke-width="0.7"/><text transform="translate(26.95 219.23) scale(0.89 1)" font-size="6.5" text-anchor="end" fill="#333">3000</text>
<line x1="28.15" y1="205.00" x2="30.45" y2="205.00" stroke="#565656" stroke-width="0.7"/><text transform="translate(26.95 207.10) scale(0.89 1)" font-size="6.5" text-anchor="end" fill="#333">3500</text>
<line x1="28.15" y1="192.86" x2="30.45" y2="192.86" stroke="#565656" stroke-width="0.7"/><text transform="translate(26.95 194.96) scale(0.89 1)" font-size="6.5" text-anchor="end" fill="#333">4000</text>
<line x1="28.15" y1="180.73" x2="30.45" y2="180.73" stroke="#565656" stroke-width="0.7"/><text transform="translate(26.95 182.83) scale(0.89 1)" font-size="6.5" text-anchor="end" fill="#333">4500</text>
<line x1="28.15" y1="168.59" x2="30.45" y2="168.59" stroke="#565656" stroke-width="0.7"/><text transform="translate(26.95 170.69) scale(0.89 1)" font-size="6.5" text-anchor="end" fill="#333">5000</text>
<line x1="28.15" y1="156.45" x2="30.45" y2="156.45" stroke="#565656" stroke-width="0.7"/><text transform="translate(26.95 158.55) scale(0.89 1)" font-size="6.5" text-anchor="end" fill="#333">5500</text>
<line x1="53.80" y1="289.95" x2="53.80" y2="291.75" stroke="#565656" stroke-width="0.7"/><text transform="translate(53.80 297.00) scale(0.93 1)" font-size="6.2" text-anchor="middle" fill="#222">SP</text>
<line x1="101.10" y1="289.95" x2="101.10" y2="291.75" stroke="#565656" stroke-width="0.7"/><text transform="translate(101.10 297.00) scale(0.93 1)" font-size="6.2" text-anchor="middle" fill="#222">SM</text>
<line x1="148.30" y1="289.95" x2="148.30" y2="291.75" stroke="#565656" stroke-width="0.7"/><text transform="translate(148.30 297.00) scale(0.93 1)" font-size="6.2" text-anchor="middle" fill="#222">MW</text>
<text transform="translate(7.40 216.80) rotate(-90) scale(0.945 1)" font-size="6.6" text-anchor="middle" fill="#111" stroke="#111" stroke-width="0.06">Chao index of OTU level</text>
<path d="M53.80 197.40 C53.86 198.00 54.07 199.48 54.15 201.00 C54.23 202.52 54.06 205.25 54.30 206.50 C54.54 207.75 55.22 207.92 55.60 208.50 C55.98 209.08 56.37 209.50 56.60 210.00 C56.83 210.50 57.00 211.00 57.00 211.50 C57.00 212.00 56.87 212.45 56.60 213.00 C56.33 213.55 55.77 214.22 55.40 214.80 C55.03 215.38 54.57 215.63 54.40 216.50 C54.23 217.37 54.17 219.25 54.40 220.00 C54.63 220.75 55.20 220.67 55.80 221.00 C56.40 221.33 57.20 221.63 58.00 222.00 C58.80 222.37 59.77 222.82 60.60 223.20 C61.43 223.58 62.40 223.80 63.00 224.30 C63.60 224.80 64.08 225.58 64.20 226.20 C64.32 226.82 63.97 227.45 63.70 228.00 C63.43 228.55 62.90 229.08 62.60 229.50 C62.30 229.92 61.90 230.15 61.90 230.50 C61.90 230.85 62.15 231.22 62.60 231.60 C63.05 231.98 63.97 232.40 64.60 232.80 C65.23 233.20 65.87 233.62 66.40 234.00 C66.93 234.38 67.40 234.67 67.80 235.10 C68.20 235.53 68.77 236.12 68.80 236.60 C68.83 237.08 68.62 237.43 68.00 238.00 C67.38 238.57 66.11 239.33 65.05 240.00 C63.99 240.67 62.72 241.33 61.65 242.00 C60.58 242.67 59.56 243.33 58.65 244.00 C57.74 244.67 56.70 245.42 56.20 246.00 C55.70 246.58 55.62 246.92 55.65 247.50 C55.68 248.08 56.23 248.83 56.40 249.50 C56.57 250.17 56.77 250.83 56.70 251.50 C56.62 252.17 56.29 252.83 55.95 253.50 C55.61 254.17 54.94 254.83 54.65 255.50 C54.36 256.17 54.34 256.75 54.20 257.50 C54.06 258.25 53.87 259.58 53.80 260.00 L53.80 260.00 C53.73 259.58 53.54 258.25 53.40 257.50 C53.26 256.75 53.24 256.17 52.95 255.50 C52.66 254.83 51.99 254.17 51.65 253.50 C51.31 252.83 50.98 252.17 50.90 251.50 C50.82 250.83 51.02 250.17 51.20 249.50 C51.37 248.83 51.92 248.08 51.95 247.50 C51.98 246.92 51.90 246.58 51.40 246.00 C50.90 245.42 49.86 244.67 48.95 244.00 C48.04 243.33 47.02 242.67 45.95 242.00 C44.88 241.33 43.61 240.67 42.55 240.00 C41.49 239.33 40.22 238.57 39.60 238.00 C38.97 237.43 38.77 237.08 38.80 236.60 C38.83 236.12 39.40 235.53 39.80 235.10 C40.20 234.67 40.67 234.38 41.20 234.00 C41.73 233.62 42.37 233.20 43.00 232.80 C43.63 232.40 44.55 231.98 45.00 231.60 C45.45 231.22 45.70 230.85 45.70 230.50 C45.70 230.15 45.30 229.92 45.00 229.50 C44.70 229.08 44.17 228.55 43.90 228.00 C43.63 227.45 43.28 226.82 43.40 226.20 C43.52 225.58 44.00 224.80 44.60 224.30 C45.20 223.80 46.17 223.58 47.00 223.20 C47.83 222.82 48.80 222.37 49.60 222.00 C50.40 221.63 51.20 221.33 51.80 221.00 C52.40 220.67 52.97 220.75 53.20 220.00 C53.43 219.25 53.37 217.37 53.20 216.50 C53.03 215.63 52.57 215.38 52.20 214.80 C51.83 214.22 51.27 213.55 51.00 213.00 C50.73 212.45 50.60 212.00 50.60 211.50 C50.60 211.00 50.77 210.50 51.00 210.00 C51.23 209.50 51.62 209.08 52.00 208.50 C52.38 207.92 53.06 207.75 53.30 206.50 C53.54 205.25 53.37 202.52 53.45 201.00 C53.53 199.48 53.74 198.00 53.80 197.40 Z" fill="#2F469E" stroke="#1c1c1c" stroke-width="0.45" stroke-linejoin="round"/>
<path d="M101.10 168.70 C101.15 169.75 101.32 173.12 101.40 175.00 C101.48 176.88 101.45 178.50 101.60 180.00 C101.75 181.50 102.02 182.67 102.30 184.00 C102.58 185.33 102.95 186.67 103.30 188.00 C103.65 189.33 103.99 190.67 104.40 192.00 C104.81 193.33 105.03 194.50 105.75 196.00 C106.47 197.50 107.75 199.33 108.75 201.00 C109.75 202.67 110.80 204.33 111.75 206.00 C112.70 207.67 113.67 209.33 114.45 211.00 C115.23 212.67 115.90 214.33 116.45 216.00 C117.00 217.67 117.46 219.33 117.75 221.00 C118.04 222.67 118.12 224.67 118.20 226.00 C118.27 227.33 118.32 227.67 118.20 229.00 C118.07 230.33 117.78 232.33 117.45 234.00 C117.12 235.67 116.70 237.33 116.20 239.00 C115.70 240.67 115.07 242.33 114.45 244.00 C113.82 245.67 113.01 247.67 112.45 249.00 C111.89 250.33 111.67 250.67 111.10 252.00 C110.52 253.33 109.68 255.33 109.00 257.00 C108.32 258.67 107.67 260.33 107.00 262.00 C106.33 263.67 105.62 265.33 105.00 267.00 C104.38 268.67 103.75 270.33 103.25 272.00 C102.75 273.67 102.36 275.58 102.00 277.00 C101.64 278.42 101.25 279.92 101.10 280.50 L101.10 280.50 C100.95 279.92 100.56 278.42 100.20 277.00 C99.84 275.58 99.45 273.67 98.95 272.00 C98.45 270.33 97.82 268.67 97.20 267.00 C96.57 265.33 95.87 263.67 95.20 262.00 C94.53 260.33 93.88 258.67 93.20 257.00 C92.52 255.33 91.67 253.33 91.10 252.00 C90.52 250.67 90.31 250.33 89.75 249.00 C89.19 247.67 88.38 245.67 87.75 244.00 C87.12 242.33 86.50 240.67 86.00 239.00 C85.50 237.33 85.08 235.67 84.75 234.00 C84.42 232.33 84.12 230.33 84.00 229.00 C83.88 227.67 83.92 227.33 84.00 226.00 C84.08 224.67 84.16 222.67 84.45 221.00 C84.74 219.33 85.20 217.67 85.75 216.00 C86.30 214.33 86.97 212.67 87.75 211.00 C88.53 209.33 89.50 207.67 90.45 206.00 C91.40 204.33 92.45 202.67 93.45 201.00 C94.45 199.33 95.72 197.50 96.45 196.00 C97.17 194.50 97.39 193.33 97.80 192.00 C98.21 190.67 98.55 189.33 98.90 188.00 C99.25 186.67 99.62 185.33 99.90 184.00 C100.18 182.67 100.45 181.50 100.60 180.00 C100.75 178.50 100.72 176.88 100.80 175.00 C100.88 173.12 101.05 169.75 101.10 168.70 Z" fill="#FE0200" stroke="#1c1c1c" stroke-width="0.45" stroke-linejoin="round"/>
<path d="M148.30 168.70 C148.35 169.25 148.50 170.78 148.60 172.00 C148.70 173.22 148.78 174.83 148.90 176.00 C149.02 177.17 149.01 178.00 149.30 179.00 C149.59 180.00 150.12 181.00 150.65 182.00 C151.18 183.00 151.87 184.00 152.45 185.00 C153.03 186.00 153.66 187.00 154.15 188.00 C154.64 189.00 155.11 190.00 155.40 191.00 C155.69 192.00 155.78 192.83 155.90 194.00 C156.03 195.17 156.00 196.67 156.15 198.00 C156.30 199.33 156.58 200.92 156.80 202.00 C157.03 203.08 157.18 203.67 157.50 204.50 C157.82 205.33 158.15 206.08 158.70 207.00 C159.25 207.92 160.21 209.00 160.80 210.00 C161.39 211.00 161.94 212.00 162.25 213.00 C162.56 214.00 162.68 215.00 162.65 216.00 C162.62 217.00 162.47 218.00 162.05 219.00 C161.63 220.00 160.90 221.00 160.15 222.00 C159.40 223.00 158.43 224.00 157.55 225.00 C156.68 226.00 155.75 227.00 154.90 228.00 C154.05 229.00 153.16 230.00 152.45 231.00 C151.74 232.00 151.11 233.08 150.65 234.00 C150.19 234.92 149.96 235.67 149.70 236.50 C149.44 237.33 149.26 238.17 149.10 239.00 C148.94 239.83 148.88 240.58 148.75 241.50 C148.62 242.42 148.38 244.00 148.30 244.50 L148.30 244.50 C148.23 244.00 147.98 242.42 147.85 241.50 C147.72 240.58 147.66 239.83 147.50 239.00 C147.34 238.17 147.16 237.33 146.90 236.50 C146.64 235.67 146.41 234.92 145.95 234.00 C145.49 233.08 144.86 232.00 144.15 231.00 C143.44 230.00 142.55 229.00 141.70 228.00 C140.85 227.00 139.93 226.00 139.05 225.00 C138.18 224.00 137.20 223.00 136.45 222.00 C135.70 221.00 134.97 220.00 134.55 219.00 C134.13 218.00 133.98 217.00 133.95 216.00 C133.92 215.00 134.04 214.00 134.35 213.00 C134.66 212.00 135.21 211.00 135.80 210.00 C136.39 209.00 137.35 207.92 137.90 207.00 C138.45 206.08 138.78 205.33 139.10 204.50 C139.42 203.67 139.58 203.08 139.80 202.00 C140.03 200.92 140.30 199.33 140.45 198.00 C140.60 196.67 140.58 195.17 140.70 194.00 C140.83 192.83 140.91 192.00 141.20 191.00 C141.49 190.00 141.96 189.00 142.45 188.00 C142.94 187.00 143.57 186.00 144.15 185.00 C144.73 184.00 145.43 183.00 145.95 182.00 C146.48 181.00 147.01 180.00 147.30 179.00 C147.59 178.00 147.58 177.17 147.70 176.00 C147.82 174.83 147.90 173.22 148.00 172.00 C148.10 170.78 148.25 169.25 148.30 168.70 Z" fill="#008A3E" stroke="#1c1c1c" stroke-width="0.45" stroke-linejoin="round"/>
<line x1="53.80" y1="220.00" x2="53.80" y2="245.90" stroke="#1c1c1c" stroke-width="0.5"/><rect x="51.15" y="227.00" width="5.30" height="8.80" fill="#fff" stroke="#222" stroke-width="0.45"/><line x1="51.15" y1="233.50" x2="56.45" y2="233.50" stroke="#1a1a1a" stroke-width="0.8"/>
<line x1="101.10" y1="196.50" x2="101.10" y2="242.50" stroke="#1c1c1c" stroke-width="0.5"/><rect x="98.45" y="200.20" width="5.30" height="32.00" fill="#fff" stroke="#222" stroke-width="0.45"/><line x1="98.45" y1="216.00" x2="103.75" y2="216.00" stroke="#1a1a1a" stroke-width="0.8"/>
<line x1="148.30" y1="185.50" x2="148.30" y2="219.00" stroke="#1c1c1c" stroke-width="0.5"/><rect x="145.65" y="193.50" width="5.30" height="19.30" fill="#fff" stroke="#222" stroke-width="0.45"/><line x1="145.65" y1="207.00" x2="150.95" y2="207.00" stroke="#1a1a1a" stroke-width="0.8"/>
<path d="M53.80 163.95 V162.45 H148.30 V163.95" fill="none" stroke="#5c5c5c" stroke-width="0.65"/><text x="101.05" y="163.20" font-size="4.3" font-weight="bold" text-anchor="middle" fill="#111" stroke="#111" stroke-width="0.25">***</text>
<path d="M224.50 156.45 H362.50 V289.95" fill="none" stroke="#7a7a7a" stroke-width="0.8"/><path d="M224.50 156.45 V290.45" fill="none" stroke="#565656" stroke-width="0.85"/><path d="M224.05 290.05 H362.90" fill="none" stroke="#8c8c8c" stroke-width="1.3"/>
<line x1="222.20" y1="289.95" x2="224.50" y2="289.95" stroke="#565656" stroke-width="0.7"/><text transform="translate(221.15 292.05) scale(0.89 1)" font-size="6.5" text-anchor="end" fill="#333">0</text>
<line x1="222.20" y1="277.81" x2="224.50" y2="277.81" stroke="#565656" stroke-width="0.7"/><text transform="translate(221.15 279.91) scale(0.89 1)" font-size="6.5" text-anchor="end" fill="#333">500</text>
<line x1="222.20" y1="265.68" x2="224.50" y2="265.68" stroke="#565656" stroke-width="0.7"/><text transform="translate(221.15 267.78) scale(0.89 1)" font-size="6.5" text-anchor="end" fill="#333">1000</text>
<line x1="222.20" y1="253.54" x2="224.50" y2="253.54" stroke="#565656" stroke-width="0.7"/><text transform="translate(221.15 255.64) scale(0.89 1)" font-size="6.5" text-anchor="end" fill="#333">1500</text>
<line x1="222.20" y1="241.41" x2="224.50" y2="241.41" stroke="#565656" stroke-width="0.7"/><text transform="translate(221.15 243.51) scale(0.89 1)" font-size="6.5" text-anchor="end" fill="#333">2000</text>
<line x1="222.20" y1="229.27" x2="224.50" y2="229.27" stroke="#565656" stroke-width="0.7"/><text transform="translate(221.15 231.37) scale(0.89 1)" font-size="6.5" text-anchor="end" fill="#333">2500</text>
<line x1="222.20" y1="217.13" x2="224.50" y2="217.13" stroke="#565656" stroke-width="0.7"/><text transform="translate(221.15 219.23) scale(0.89 1)" font-size="6.5" text-anchor="end" fill="#333">3000</text>
<line x1="222.20" y1="205.00" x2="224.50" y2="205.00" stroke="#565656" stroke-width="0.7"/><text transform="translate(221.15 207.10) scale(0.89 1)" font-size="6.5" text-anchor="end" fill="#333">3500</text>
<line x1="222.20" y1="192.86" x2="224.50" y2="192.86" stroke="#565656" stroke-width="0.7"/><text transform="translate(221.15 194.96) scale(0.89 1)" font-size="6.5" text-anchor="end" fill="#333">4000</text>
<line x1="222.20" y1="180.73" x2="224.50" y2="180.73" stroke="#565656" stroke-width="0.7"/><text transform="translate(221.15 182.83) scale(0.89 1)" font-size="6.5" text-anchor="end" fill="#333">4500</text>
<line x1="222.20" y1="168.59" x2="224.50" y2="168.59" stroke="#565656" stroke-width="0.7"/><text transform="translate(221.15 170.69) scale(0.89 1)" font-size="6.5" text-anchor="end" fill="#333">5000</text>
<line x1="222.20" y1="156.45" x2="224.50" y2="156.45" stroke="#565656" stroke-width="0.7"/><text transform="translate(221.15 158.55) scale(0.89 1)" font-size="6.5" text-anchor="end" fill="#333">5500</text>
<line x1="247.20" y1="289.95" x2="247.20" y2="291.75" stroke="#565656" stroke-width="0.7"/><text transform="translate(247.20 297.00) scale(0.93 1)" font-size="6.2" text-anchor="middle" fill="#222">SP</text>
<line x1="293.20" y1="289.95" x2="293.20" y2="291.75" stroke="#565656" stroke-width="0.7"/><text transform="translate(293.20 297.00) scale(0.93 1)" font-size="6.2" text-anchor="middle" fill="#222">SM</text>
<line x1="339.10" y1="289.95" x2="339.10" y2="291.75" stroke="#565656" stroke-width="0.7"/><text transform="translate(339.10 297.00) scale(0.93 1)" font-size="6.2" text-anchor="middle" fill="#222">MW</text>
<text transform="translate(200.70 220.00) rotate(-90) scale(0.945 1)" font-size="6.6" text-anchor="middle" fill="#111" stroke="#111" stroke-width="0.06">Ace index of OTU level</text>
<path d="M247.20 197.40 C247.26 198.00 247.47 199.57 247.55 201.00 C247.63 202.43 247.42 204.83 247.70 206.00 C247.97 207.17 248.70 207.33 249.20 208.00 C249.70 208.67 250.33 209.37 250.70 210.00 C251.07 210.63 251.40 211.22 251.40 211.80 C251.40 212.38 251.07 212.93 250.70 213.50 C250.33 214.07 249.68 214.63 249.20 215.20 C248.72 215.77 248.03 216.10 247.80 216.90 C247.57 217.70 247.53 219.32 247.80 220.00 C248.07 220.68 248.67 220.67 249.40 221.00 C250.13 221.33 251.13 221.63 252.20 222.00 C253.27 222.37 254.65 222.82 255.80 223.20 C256.95 223.58 258.23 223.92 259.10 224.30 C259.97 224.68 260.50 225.12 261.00 225.50 C261.50 225.88 261.83 226.03 262.10 226.60 C262.37 227.17 262.58 228.30 262.60 228.90 C262.62 229.50 262.33 229.82 262.20 230.20 C262.07 230.58 261.78 230.85 261.80 231.20 C261.82 231.55 262.10 231.92 262.30 232.30 C262.50 232.68 262.77 232.85 263.00 233.50 C263.23 234.15 263.77 235.45 263.70 236.20 C263.62 236.95 263.28 237.37 262.55 238.00 C261.82 238.63 260.51 239.33 259.30 240.00 C258.09 240.67 256.50 241.33 255.30 242.00 C254.10 242.67 252.95 243.33 252.10 244.00 C251.25 244.67 250.56 245.42 250.20 246.00 C249.84 246.58 249.84 246.92 249.95 247.50 C250.06 248.08 250.64 248.92 250.85 249.50 C251.06 250.08 251.29 250.42 251.20 251.00 C251.11 251.58 250.74 252.33 250.30 253.00 C249.86 253.67 248.97 254.42 248.55 255.00 C248.13 255.58 247.96 255.92 247.80 256.50 C247.64 257.08 247.70 257.78 247.60 258.50 C247.50 259.22 247.27 260.42 247.20 260.80 L247.20 260.80 C247.13 260.42 246.90 259.22 246.80 258.50 C246.70 257.78 246.76 257.08 246.60 256.50 C246.44 255.92 246.27 255.58 245.85 255.00 C245.43 254.42 244.54 253.67 244.10 253.00 C243.66 252.33 243.29 251.58 243.20 251.00 C243.11 250.42 243.34 250.08 243.55 249.50 C243.76 248.92 244.34 248.08 244.45 247.50 C244.56 246.92 244.56 246.58 244.20 246.00 C243.84 245.42 243.15 244.67 242.30 244.00 C241.45 243.33 240.30 242.67 239.10 242.00 C237.90 241.33 236.31 240.67 235.10 240.00 C233.89 239.33 232.58 238.63 231.85 238.00 C231.12 237.37 230.77 236.95 230.70 236.20 C230.62 235.45 231.17 234.15 231.40 233.50 C231.63 232.85 231.90 232.68 232.10 232.30 C232.30 231.92 232.58 231.55 232.60 231.20 C232.62 230.85 232.33 230.58 232.20 230.20 C232.07 229.82 231.78 229.50 231.80 228.90 C231.82 228.30 232.03 227.17 232.30 226.60 C232.57 226.03 232.90 225.88 233.40 225.50 C233.90 225.12 234.43 224.68 235.30 224.30 C236.17 223.92 237.45 223.58 238.60 223.20 C239.75 222.82 241.13 222.37 242.20 222.00 C243.27 221.63 244.27 221.33 245.00 221.00 C245.73 220.67 246.33 220.68 246.60 220.00 C246.87 219.32 246.83 217.70 246.60 216.90 C246.37 216.10 245.68 215.77 245.20 215.20 C244.72 214.63 244.07 214.07 243.70 213.50 C243.33 212.93 243.00 212.38 243.00 211.80 C243.00 211.22 243.33 210.63 243.70 210.00 C244.07 209.37 244.70 208.67 245.20 208.00 C245.70 207.33 246.42 207.17 246.70 206.00 C246.97 204.83 246.77 202.43 246.85 201.00 C246.93 199.57 247.14 198.00 247.20 197.40 Z" fill="#2F469E" stroke="#1c1c1c" stroke-width="0.45" stroke-linejoin="round"/>
<path d="M293.20 168.70 C293.25 169.75 293.42 173.12 293.50 175.00 C293.58 176.88 293.58 178.33 293.70 180.00 C293.82 181.67 293.87 183.33 294.20 185.00 C294.53 186.67 295.06 188.33 295.70 190.00 C296.34 191.67 297.16 193.33 298.05 195.00 C298.94 196.67 300.12 198.33 301.05 200.00 C301.98 201.67 302.77 203.33 303.60 205.00 C304.42 206.67 305.23 208.33 306.00 210.00 C306.77 211.67 307.62 213.33 308.20 215.00 C308.78 216.67 309.20 218.33 309.50 220.00 C309.80 221.67 309.95 223.33 310.00 225.00 C310.05 226.67 309.93 228.33 309.80 230.00 C309.67 231.67 309.53 233.33 309.20 235.00 C308.87 236.67 308.37 238.33 307.80 240.00 C307.23 241.67 306.52 243.33 305.80 245.00 C305.08 246.67 304.23 248.33 303.50 250.00 C302.77 251.67 302.08 253.33 301.40 255.00 C300.72 256.67 300.05 258.33 299.40 260.00 C298.75 261.67 298.09 263.33 297.50 265.00 C296.91 266.67 296.34 268.33 295.85 270.00 C295.36 271.67 294.91 273.33 294.55 275.00 C294.19 276.67 293.93 278.83 293.70 280.00 C293.47 281.17 293.28 281.67 293.20 282.00 L293.20 282.00 C293.12 281.67 292.93 281.17 292.70 280.00 C292.47 278.83 292.21 276.67 291.85 275.00 C291.49 273.33 291.04 271.67 290.55 270.00 C290.06 268.33 289.49 266.67 288.90 265.00 C288.31 263.33 287.65 261.67 287.00 260.00 C286.35 258.33 285.68 256.67 285.00 255.00 C284.32 253.33 283.63 251.67 282.90 250.00 C282.17 248.33 281.32 246.67 280.60 245.00 C279.88 243.33 279.17 241.67 278.60 240.00 C278.03 238.33 277.53 236.67 277.20 235.00 C276.87 233.33 276.73 231.67 276.60 230.00 C276.47 228.33 276.35 226.67 276.40 225.00 C276.45 223.33 276.60 221.67 276.90 220.00 C277.20 218.33 277.62 216.67 278.20 215.00 C278.78 213.33 279.63 211.67 280.40 210.00 C281.17 208.33 281.98 206.67 282.80 205.00 C283.62 203.33 284.42 201.67 285.35 200.00 C286.27 198.33 287.46 196.67 288.35 195.00 C289.24 193.33 290.06 191.67 290.70 190.00 C291.34 188.33 291.87 186.67 292.20 185.00 C292.53 183.33 292.58 181.67 292.70 180.00 C292.82 178.33 292.82 176.88 292.90 175.00 C292.98 173.12 293.15 169.75 293.20 168.70 Z" fill="#FE0200" stroke="#1c1c1c" stroke-width="0.45" stroke-linejoin="round"/>
<path d="M339.10 168.70 C339.15 169.25 339.30 170.78 339.40 172.00 C339.50 173.22 339.60 174.83 339.70 176.00 C339.80 177.17 339.74 178.00 340.00 179.00 C340.26 180.00 340.73 181.00 341.25 182.00 C341.77 183.00 342.52 184.00 343.10 185.00 C343.68 186.00 344.26 187.00 344.75 188.00 C345.24 189.00 345.74 190.00 346.05 191.00 C346.36 192.00 346.47 192.83 346.60 194.00 C346.73 195.17 346.71 196.67 346.85 198.00 C346.99 199.33 347.23 200.92 347.45 202.00 C347.68 203.08 347.88 203.67 348.20 204.50 C348.52 205.33 348.83 206.08 349.35 207.00 C349.88 207.92 350.78 209.00 351.35 210.00 C351.92 211.00 352.46 212.00 352.75 213.00 C353.04 214.00 353.17 215.00 353.10 216.00 C353.03 217.00 352.81 218.00 352.35 219.00 C351.89 220.00 351.12 221.00 350.35 222.00 C349.58 223.00 348.62 224.00 347.75 225.00 C346.88 226.00 345.93 227.00 345.10 228.00 C344.27 229.00 343.42 230.00 342.75 231.00 C342.08 232.00 341.49 233.08 341.10 234.00 C340.71 234.92 340.60 235.67 340.40 236.50 C340.20 237.33 340.04 238.08 339.90 239.00 C339.76 239.92 339.68 240.98 339.55 242.00 C339.42 243.02 339.18 244.58 339.10 245.10 L339.10 245.10 C339.03 244.58 338.78 243.02 338.65 242.00 C338.52 240.98 338.44 239.92 338.30 239.00 C338.16 238.08 338.00 237.33 337.80 236.50 C337.60 235.67 337.49 234.92 337.10 234.00 C336.71 233.08 336.12 232.00 335.45 231.00 C334.78 230.00 333.93 229.00 333.10 228.00 C332.27 227.00 331.33 226.00 330.45 225.00 C329.58 224.00 328.62 223.00 327.85 222.00 C327.08 221.00 326.31 220.00 325.85 219.00 C325.39 218.00 325.17 217.00 325.10 216.00 C325.03 215.00 325.16 214.00 325.45 213.00 C325.74 212.00 326.28 211.00 326.85 210.00 C327.42 209.00 328.33 207.92 328.85 207.00 C329.38 206.08 329.68 205.33 330.00 204.50 C330.32 203.67 330.52 203.08 330.75 202.00 C330.98 200.92 331.21 199.33 331.35 198.00 C331.49 196.67 331.47 195.17 331.60 194.00 C331.73 192.83 331.84 192.00 332.15 191.00 C332.46 190.00 332.96 189.00 333.45 188.00 C333.94 187.00 334.52 186.00 335.10 185.00 C335.68 184.00 336.43 183.00 336.95 182.00 C337.47 181.00 337.94 180.00 338.20 179.00 C338.46 178.00 338.40 177.17 338.50 176.00 C338.60 174.83 338.70 173.22 338.80 172.00 C338.90 170.78 339.05 169.25 339.10 168.70 Z" fill="#008A3E" stroke="#1c1c1c" stroke-width="0.45" stroke-linejoin="round"/>
<line x1="247.20" y1="220.00" x2="247.20" y2="244.10" stroke="#1c1c1c" stroke-width="0.5"/><rect x="244.55" y="225.10" width="5.30" height="9.60" fill="#fff" stroke="#222" stroke-width="0.45"/><line x1="244.55" y1="230.90" x2="249.85" y2="230.90" stroke="#1a1a1a" stroke-width="0.8"/>
<line x1="293.20" y1="196.50" x2="293.20" y2="242.50" stroke="#1c1c1c" stroke-width="0.5"/><rect x="290.55" y="199.50" width="5.30" height="31.30" fill="#fff" stroke="#222" stroke-width="0.45"/><line x1="290.55" y1="216.30" x2="295.85" y2="216.30" stroke="#1a1a1a" stroke-width="0.8"/>
<line x1="339.10" y1="185.00" x2="339.10" y2="219.00" stroke="#1c1c1c" stroke-width="0.5"/><rect x="336.45" y="192.50" width="5.30" height="20.30" fill="#fff" stroke="#222" stroke-width="0.45"/><line x1="336.45" y1="207.50" x2="341.75" y2="207.50" stroke="#1a1a1a" stroke-width="0.8"/>
<path d="M247.20 163.95 V162.45 H339.20 V163.95" fill="none" stroke="#5c5c5c" stroke-width="0.65"/><text x="293.20" y="163.20" font-size="4.3" font-weight="bold" text-anchor="middle" fill="#111" stroke="#111" stroke-width="0.25">***</text>
<path d="M409.50 155.90 H547.50 V288.90" fill="none" stroke="#7a7a7a" stroke-width="0.8"/><path d="M409.50 155.90 V289.40" fill="none" stroke="#565656" stroke-width="0.85"/><path d="M409.05 289.00 H547.90" fill="none" stroke="#8c8c8c" stroke-width="1.3"/>
<line x1="406.90" y1="288.90" x2="409.50" y2="288.90" stroke="#565656" stroke-width="0.7"/><text transform="translate(404.75 291.00) scale(0.89 1)" font-size="6.5" text-anchor="end" fill="#333">0</text>
<line x1="406.90" y1="274.12" x2="409.50" y2="274.12" stroke="#565656" stroke-width="0.7"/><text transform="translate(404.75 276.22) scale(0.89 1)" font-size="6.5" text-anchor="end" fill="#333">500</text>
<line x1="406.90" y1="259.34" x2="409.50" y2="259.34" stroke="#565656" stroke-width="0.7"/><text transform="translate(404.75 261.44) scale(0.89 1)" font-size="6.5" text-anchor="end" fill="#333">1000</text>
<line x1="406.90" y1="244.57" x2="409.50" y2="244.57" stroke="#565656" stroke-width="0.7"/><text transform="translate(404.75 246.67) scale(0.89 1)" font-size="6.5" text-anchor="end" fill="#333">1500</text>
<line x1="406.90" y1="229.79" x2="409.50" y2="229.79" stroke="#565656" stroke-width="0.7"/><text transform="translate(404.75 231.89) scale(0.89 1)" font-size="6.5" text-anchor="end" fill="#333">2000</text>
<line x1="406.90" y1="215.01" x2="409.50" y2="215.01" stroke="#565656" stroke-width="0.7"/><text transform="translate(404.75 217.11) scale(0.89 1)" font-size="6.5" text-anchor="end" fill="#333">2500</text>
<line x1="406.90" y1="200.23" x2="409.50" y2="200.23" stroke="#565656" stroke-width="0.7"/><text transform="translate(404.75 202.33) scale(0.89 1)" font-size="6.5" text-anchor="end" fill="#333">3000</text>
<line x1="406.90" y1="185.45" x2="409.50" y2="185.45" stroke="#565656" stroke-width="0.7"/><text transform="translate(404.75 187.55) scale(0.89 1)" font-size="6.5" text-anchor="end" fill="#333">3500</text>
<line x1="406.90" y1="170.68" x2="409.50" y2="170.68" stroke="#565656" stroke-width="0.7"/><text transform="translate(404.75 172.78) scale(0.89 1)" font-size="6.5" text-anchor="end" fill="#333">4000</text>
<line x1="406.90" y1="155.90" x2="409.50" y2="155.90" stroke="#565656" stroke-width="0.7"/><text transform="translate(404.75 158.00) scale(0.89 1)" font-size="6.5" text-anchor="end" fill="#333">4500</text>
<line x1="432.40" y1="288.90" x2="432.40" y2="290.70" stroke="#565656" stroke-width="0.7"/><text transform="translate(432.40 297.00) scale(0.93 1)" font-size="6.2" text-anchor="middle" fill="#222">SP</text>
<line x1="478.50" y1="288.90" x2="478.50" y2="290.70" stroke="#565656" stroke-width="0.7"/><text transform="translate(478.50 297.00) scale(0.93 1)" font-size="6.2" text-anchor="middle" fill="#222">SM</text>
<line x1="524.50" y1="288.90" x2="524.50" y2="290.70" stroke="#565656" stroke-width="0.7"/><text transform="translate(524.50 297.00) scale(0.93 1)" font-size="6.2" text-anchor="middle" fill="#222">MW</text>
<text transform="translate(386.40 218.90) rotate(-90) scale(0.945 1)" font-size="6.6" text-anchor="middle" fill="#111" stroke="#111" stroke-width="0.06">Sobs index of OTU level</text>
<path d="M432.40 199.80 C432.57 200.00 433.08 200.63 433.40 201.00 C433.72 201.37 434.02 201.58 434.30 202.00 C434.58 202.42 434.90 203.00 435.10 203.50 C435.30 204.00 435.47 204.50 435.50 205.00 C435.53 205.50 435.42 206.00 435.30 206.50 C435.18 207.00 434.98 207.50 434.80 208.00 C434.62 208.50 434.40 209.00 434.20 209.50 C434.00 210.00 433.82 210.42 433.60 211.00 C433.38 211.58 433.03 212.00 432.90 213.00 C432.77 214.00 432.80 215.75 432.80 217.00 C432.80 218.25 432.78 219.67 432.90 220.50 C433.02 221.33 433.07 221.42 433.50 222.00 C433.93 222.58 434.78 223.33 435.50 224.00 C436.22 224.67 436.92 225.33 437.80 226.00 C438.68 226.67 439.80 227.33 440.80 228.00 C441.80 228.67 442.93 229.33 443.80 230.00 C444.67 230.67 445.40 231.33 446.00 232.00 C446.60 232.67 447.10 233.42 447.40 234.00 C447.70 234.58 447.87 235.00 447.80 235.50 C447.73 236.00 447.50 236.42 447.00 237.00 C446.50 237.58 445.43 238.33 444.80 239.00 C444.17 239.67 443.62 240.33 443.20 241.00 C442.77 241.67 442.57 242.17 442.25 243.00 C441.93 243.83 441.62 245.00 441.25 246.00 C440.88 247.00 440.54 248.00 440.00 249.00 C439.46 250.00 438.78 251.00 438.00 252.00 C437.22 253.00 436.23 254.00 435.30 255.00 C434.37 256.00 432.88 257.50 432.40 258.00 L432.40 258.00 C431.92 257.50 430.43 256.00 429.50 255.00 C428.57 254.00 427.58 253.00 426.80 252.00 C426.02 251.00 425.34 250.00 424.80 249.00 C424.26 248.00 423.92 247.00 423.55 246.00 C423.17 245.00 422.87 243.83 422.55 243.00 C422.22 242.17 422.02 241.67 421.60 241.00 C421.17 240.33 420.63 239.67 420.00 239.00 C419.37 238.33 418.30 237.58 417.80 237.00 C417.30 236.42 417.07 236.00 417.00 235.50 C416.93 235.00 417.10 234.58 417.40 234.00 C417.70 233.42 418.20 232.67 418.80 232.00 C419.40 231.33 420.13 230.67 421.00 230.00 C421.87 229.33 423.00 228.67 424.00 228.00 C425.00 227.33 426.12 226.67 427.00 226.00 C427.88 225.33 428.58 224.67 429.30 224.00 C430.02 223.33 430.87 222.58 431.30 222.00 C431.73 221.42 431.78 221.33 431.90 220.50 C432.02 219.67 432.00 218.25 432.00 217.00 C432.00 215.75 432.03 214.00 431.90 213.00 C431.77 212.00 431.42 211.58 431.20 211.00 C430.98 210.42 430.80 210.00 430.60 209.50 C430.40 209.00 430.18 208.50 430.00 208.00 C429.82 207.50 429.62 207.00 429.50 206.50 C429.38 206.00 429.27 205.50 429.30 205.00 C429.33 204.50 429.50 204.00 429.70 203.50 C429.90 203.00 430.22 202.42 430.50 202.00 C430.78 201.58 431.08 201.37 431.40 201.00 C431.72 200.63 432.23 200.00 432.40 199.80 Z" fill="#2F469E" stroke="#1c1c1c" stroke-width="0.45" stroke-linejoin="round"/>
<path d="M478.50 185.10 C478.55 185.75 478.72 187.78 478.80 189.00 C478.88 190.22 478.88 191.40 479.00 192.40 C479.12 193.40 479.17 194.07 479.50 195.00 C479.83 195.93 480.28 197.00 481.00 198.00 C481.72 199.00 482.72 199.83 483.80 201.00 C484.88 202.17 486.38 203.50 487.50 205.00 C488.62 206.50 489.75 208.33 490.50 210.00 C491.25 211.67 491.72 213.67 492.00 215.00 C492.28 216.33 492.32 216.83 492.20 218.00 C492.08 219.17 491.75 220.83 491.30 222.00 C490.85 223.17 490.05 224.00 489.50 225.00 C488.95 226.00 488.43 226.83 488.00 228.00 C487.57 229.17 487.17 230.50 486.90 232.00 C486.62 233.50 486.54 235.33 486.35 237.00 C486.16 238.67 485.96 240.33 485.75 242.00 C485.54 243.67 485.26 245.67 485.10 247.00 C484.94 248.33 485.09 248.67 484.80 250.00 C484.51 251.33 483.85 253.33 483.35 255.00 C482.85 256.67 482.28 258.33 481.80 260.00 C481.32 261.67 480.88 263.33 480.50 265.00 C480.12 266.67 479.83 268.08 479.50 270.00 C479.17 271.92 478.67 275.42 478.50 276.50 L478.50 276.50 C478.33 275.42 477.83 271.92 477.50 270.00 C477.17 268.08 476.88 266.67 476.50 265.00 C476.12 263.33 475.68 261.67 475.20 260.00 C474.72 258.33 474.15 256.67 473.65 255.00 C473.15 253.33 472.49 251.33 472.20 250.00 C471.91 248.67 472.06 248.33 471.90 247.00 C471.74 245.67 471.46 243.67 471.25 242.00 C471.04 240.33 470.84 238.67 470.65 237.00 C470.46 235.33 470.38 233.50 470.10 232.00 C469.83 230.50 469.43 229.17 469.00 228.00 C468.57 226.83 468.05 226.00 467.50 225.00 C466.95 224.00 466.15 223.17 465.70 222.00 C465.25 220.83 464.92 219.17 464.80 218.00 C464.68 216.83 464.72 216.33 465.00 215.00 C465.28 213.67 465.75 211.67 466.50 210.00 C467.25 208.33 468.38 206.50 469.50 205.00 C470.62 203.50 472.12 202.17 473.20 201.00 C474.28 199.83 475.28 199.00 476.00 198.00 C476.72 197.00 477.17 195.93 477.50 195.00 C477.83 194.07 477.88 193.40 478.00 192.40 C478.12 191.40 478.12 190.22 478.20 189.00 C478.28 187.78 478.45 185.75 478.50 185.10 Z" fill="#FE0200" stroke="#1c1c1c" stroke-width="0.45" stroke-linejoin="round"/>
<path d="M524.50 170.50 C524.55 171.08 524.72 172.92 524.80 174.00 C524.88 175.08 524.88 176.17 525.00 177.00 C525.12 177.83 525.18 178.17 525.50 179.00 C525.82 179.83 526.32 181.00 526.90 182.00 C527.48 183.00 528.23 184.00 529.00 185.00 C529.77 186.00 530.67 187.00 531.50 188.00 C532.33 189.00 533.23 190.00 534.00 191.00 C534.77 192.00 535.57 193.17 536.10 194.00 C536.63 194.83 536.85 195.17 537.20 196.00 C537.55 196.83 537.98 198.00 538.20 199.00 C538.42 200.00 538.53 201.00 538.50 202.00 C538.47 203.00 538.25 204.00 538.00 205.00 C537.75 206.00 537.33 207.00 537.00 208.00 C536.67 209.00 536.20 210.08 536.00 211.00 C535.80 211.92 535.77 212.67 535.80 213.50 C535.83 214.33 535.97 215.08 536.20 216.00 C536.43 216.92 536.90 218.00 537.20 219.00 C537.50 220.00 537.81 221.00 538.00 222.00 C538.19 223.00 538.35 224.00 538.35 225.00 C538.35 226.00 538.23 227.00 538.00 228.00 C537.77 229.00 537.50 230.00 537.00 231.00 C536.50 232.00 535.75 233.00 535.00 234.00 C534.25 235.00 533.42 236.00 532.50 237.00 C531.58 238.00 530.25 239.25 529.50 240.00 C528.75 240.75 528.50 241.00 528.00 241.50 C527.50 242.00 527.08 242.33 526.50 243.00 C525.92 243.67 524.83 245.08 524.50 245.50 L524.50 245.50 C524.17 245.08 523.08 243.67 522.50 243.00 C521.92 242.33 521.50 242.00 521.00 241.50 C520.50 241.00 520.25 240.75 519.50 240.00 C518.75 239.25 517.42 238.00 516.50 237.00 C515.58 236.00 514.75 235.00 514.00 234.00 C513.25 233.00 512.50 232.00 512.00 231.00 C511.50 230.00 511.23 229.00 511.00 228.00 C510.77 227.00 510.65 226.00 510.65 225.00 C510.65 224.00 510.81 223.00 511.00 222.00 C511.19 221.00 511.50 220.00 511.80 219.00 C512.10 218.00 512.57 216.92 512.80 216.00 C513.03 215.08 513.17 214.33 513.20 213.50 C513.23 212.67 513.20 211.92 513.00 211.00 C512.80 210.08 512.33 209.00 512.00 208.00 C511.67 207.00 511.25 206.00 511.00 205.00 C510.75 204.00 510.53 203.00 510.50 202.00 C510.47 201.00 510.58 200.00 510.80 199.00 C511.02 198.00 511.45 196.83 511.80 196.00 C512.15 195.17 512.37 194.83 512.90 194.00 C513.43 193.17 514.23 192.00 515.00 191.00 C515.77 190.00 516.67 189.00 517.50 188.00 C518.33 187.00 519.23 186.00 520.00 185.00 C520.77 184.00 521.52 183.00 522.10 182.00 C522.68 181.00 523.18 179.83 523.50 179.00 C523.82 178.17 523.88 177.83 524.00 177.00 C524.12 176.17 524.12 175.08 524.20 174.00 C524.28 172.92 524.45 171.08 524.50 170.50 Z" fill="#008A3E" stroke="#1c1c1c" stroke-width="0.45" stroke-linejoin="round"/>
<line x1="432.45" y1="220.50" x2="432.45" y2="246.50" stroke="#1c1c1c" stroke-width="0.5"/><rect x="429.80" y="231.00" width="5.30" height="8.00" fill="#fff" stroke="#222" stroke-width="0.45"/><line x1="429.80" y1="233.80" x2="435.10" y2="233.80" stroke="#1a1a1a" stroke-width="0.8"/>
<line x1="478.50" y1="202.50" x2="478.50" y2="243.50" stroke="#1c1c1c" stroke-width="0.5"/><rect x="475.85" y="204.80" width="5.30" height="28.40" fill="#fff" stroke="#222" stroke-width="0.45"/><line x1="475.85" y1="220.20" x2="481.15" y2="220.20" stroke="#1a1a1a" stroke-width="0.8"/>
<line x1="524.50" y1="189.50" x2="524.50" y2="222.50" stroke="#1c1c1c" stroke-width="0.5"/><rect x="521.85" y="198.80" width="5.30" height="18.70" fill="#fff" stroke="#222" stroke-width="0.45"/><line x1="521.85" y1="209.00" x2="527.15" y2="209.00" stroke="#1a1a1a" stroke-width="0.8"/>
<path d="M432.40 165.90 V164.40 H524.50 V165.90" fill="none" stroke="#5c5c5c" stroke-width="0.65"/><text x="478.45" y="165.15" font-size="4.3" font-weight="bold" text-anchor="middle" fill="#111" stroke="#111" stroke-width="0.25">***</text>
</svg>
</body></html>
